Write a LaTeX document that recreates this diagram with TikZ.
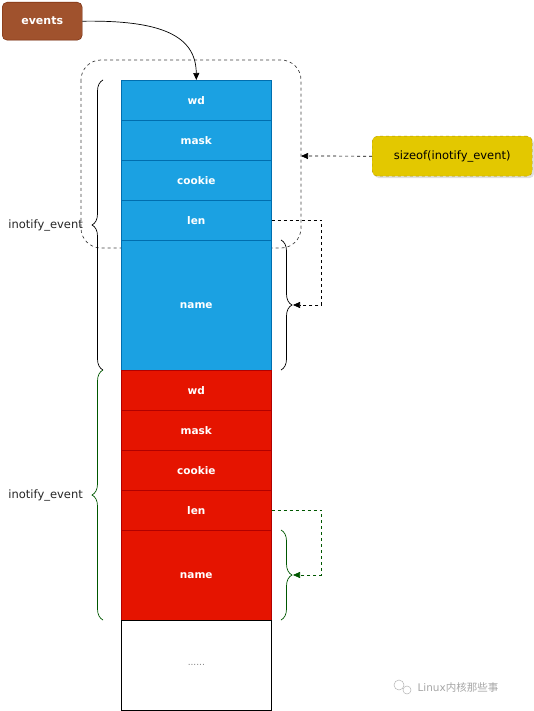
\documentclass[tikz,border=0pt]{standalone}
\usepackage{fontspec}
\setmainfont{DejaVu Sans}
\newfontfamily\cjkfont{Noto Sans CJK SC}
\usetikzlibrary{arrows.meta,decorations.pathreplacing,shadows,calc}
\definecolor{bluef}{HTML}{1BA1E2}
\definecolor{blueb}{HTML}{006EAF}
\definecolor{redf}{HTML}{E51400}
\definecolor{redb}{HTML}{B20000}
\definecolor{brownf}{HTML}{A0522D}
\definecolor{brownb}{HTML}{6D1F00}
\definecolor{yelf}{HTML}{E3C800}
\definecolor{yelb}{HTML}{B09500}
\definecolor{grn}{HTML}{005700}
\tikzset{
  cell/.style={draw=#1, line width=0.6pt, minimum width=150pt, inner sep=0pt, text=white, font=\bfseries\fontsize{10.5}{12}\selectfont},
  bcell/.style={cell=blueb, fill=bluef, minimum height=40pt},
  rcell/.style={cell=redb, fill=redf, minimum height=40pt},
  bracestyle/.style={decorate, decoration={brace, amplitude=11pt}, line width=0.7pt},
  tip/.style={-{Triangle[length=7pt,width=6pt]}},
  lbl/.style={font=\fontsize{11.5}{13}\selectfont, text=black!85},
}
\begin{document}
\begin{tikzpicture}[x=1pt,y=-1pt]
\useasboundingbox (0,0) rectangle (534,711);
% dashed rounded region
\draw[dashed, black!75, line width=0.7pt, rounded corners=20pt] (81,60) rectangle (301,248);
% blue struct
\node[bcell, anchor=north west] (bwd) at (121,80) {wd};
\node[bcell, anchor=north west] (bmask) at (121,120) {mask};
\node[bcell, anchor=north west] (bcookie) at (121,160) {cookie};
\node[bcell, anchor=north west] (blen) at (121,200) {len};
\node[cell=blueb, fill=bluef, minimum height=130pt, anchor=north west] (bname) at (121,240) {name};
% red struct
\node[rcell, anchor=north west] (rwd) at (121,370) {wd};
\node[rcell, anchor=north west] (rmask) at (121,410) {mask};
\node[rcell, anchor=north west] (rcookie) at (121,450) {cookie};
\node[rcell, anchor=north west] (rlen) at (121,490) {len};
\node[cell=redb, fill=redf, minimum height=90pt, anchor=north west] (rname) at (121,530) {name};
% rest
\node[draw=black, line width=0.7pt, fill=white, minimum width=150pt, minimum height=90pt, inner sep=0pt, anchor=north west, text=gray, font=\fontsize{9}{10}\selectfont] (rest) at (121,620) {......};
% events
\node[draw=brownb, fill=brownf, rounded corners=5pt, minimum width=80pt, minimum height=38pt, text=white, font=\bfseries\fontsize{11}{12}\selectfont, anchor=north west] (events) at (2,2) {events};
\draw[tip, line width=0.7pt] (events.east) .. controls (160,20) and (196,35) .. (bwd.north);
% sizeof
\node[draw=yelb, dashed, fill=yelf, rounded corners=5pt, minimum width=160pt, minimum height=40pt, drop shadow={shadow xshift=2pt, shadow yshift=-2pt, fill=gray!50}, font=\fontsize{11.5}{13}\selectfont, anchor=north west] (sz) at (372,136) {sizeof(inotify\_event)};
\coordinate (szend) at (301,156);
\draw[tip, dashed, black, line width=0.7pt] (sz.west) -- (szend);
% left braces
\draw[bracestyle] (103,370) -- (103,80) node[midway] (bbr) {};
\node[lbl, anchor=east, inner sep=1pt] (bl) at (84,225) {inotify\_event};
\draw[bracestyle, grn] (103,620) -- (103,370) node[midway] (rbr) {};
\node[lbl, anchor=east, inner sep=1pt] (rl) at (84,495) {inotify\_event};
% right braces
\draw[bracestyle] (281,240) -- (281,370);
\coordinate (bnt) at (293,305);
\draw[bracestyle, grn] (281,530) -- (281,620);
\coordinate (rnt) at (293,575);
% len connectors
\draw[tip, dashed, line width=0.7pt] (blen.east) -- ++(50,0) |- (bnt);
\draw[tip, dashed, grn, line width=0.7pt] (rlen.east) -- ++(50,0) |- (rnt);
% watermark
\node[anchor=west, text=gray!70, font=\fontsize{10.5}{12}\selectfont] (wm) at (414,687) {Linux\cjkfont 内核那些事};
\draw[gray!60, line width=0.5pt] (399,685) circle (5pt);
\draw[gray!60, line width=0.5pt] (407,690) circle (4pt);
\end{tikzpicture}
\end{document}
